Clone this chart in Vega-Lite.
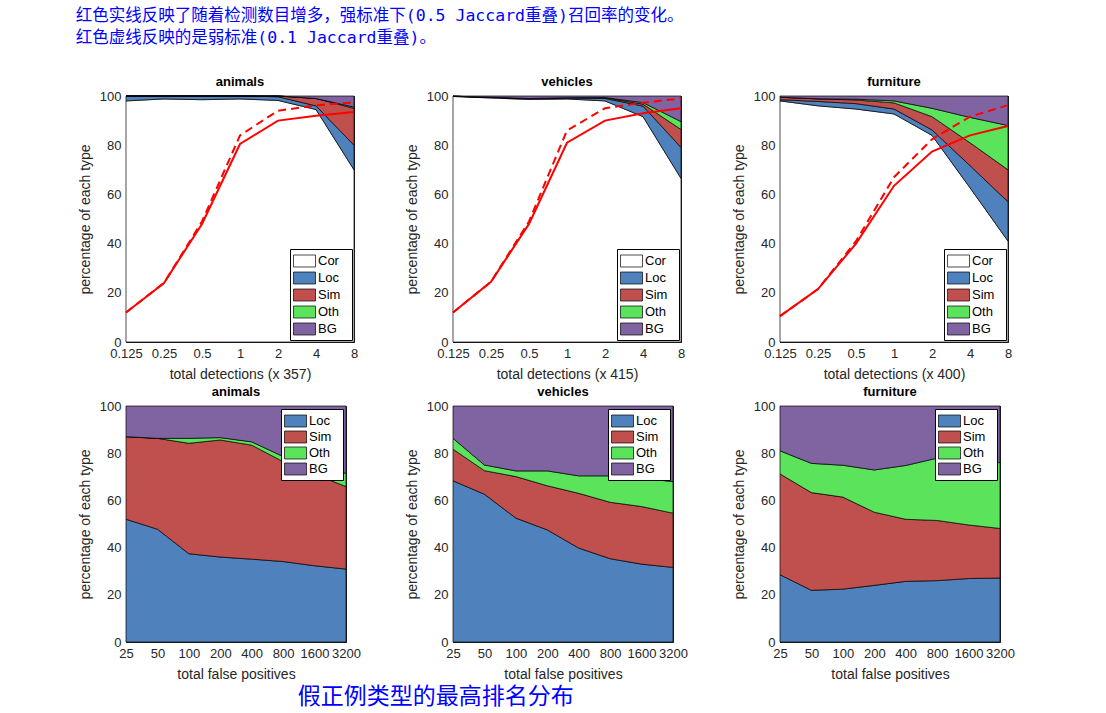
{
  "$schema": "https://vega.github.io/schema/vega-lite/v6.json",
  "padding": {"left": 75, "top": 8, "right": 5, "bottom": 5},
  "datasets": {
    "types": [{"type":"Cor","k":1},{"type":"Loc","k":2},{"type":"Sim","k":3},{"type":"Oth","k":4},{"type":"BG","k":5}],
    "top": [
      {"cat":"animals","x":0.125,"type":"Cor","pct":98},{"cat":"animals","x":0.125,"type":"Loc","pct":2},{"cat":"animals","x":0.125,"type":"Sim","pct":0},{"cat":"animals","x":0.125,"type":"Oth","pct":0},{"cat":"animals","x":0.125,"type":"BG","pct":0},
      {"cat":"animals","x":0.25,"type":"Cor","pct":98.8},{"cat":"animals","x":0.25,"type":"Loc","pct":1.2},{"cat":"animals","x":0.25,"type":"Sim","pct":0},{"cat":"animals","x":0.25,"type":"Oth","pct":0},{"cat":"animals","x":0.25,"type":"BG","pct":0},
      {"cat":"animals","x":0.5,"type":"Cor","pct":98.5},{"cat":"animals","x":0.5,"type":"Loc","pct":1.5},{"cat":"animals","x":0.5,"type":"Sim","pct":0},{"cat":"animals","x":0.5,"type":"Oth","pct":0},{"cat":"animals","x":0.5,"type":"BG","pct":0},
      {"cat":"animals","x":1,"type":"Cor","pct":98.8},{"cat":"animals","x":1,"type":"Loc","pct":1.2},{"cat":"animals","x":1,"type":"Sim","pct":0},{"cat":"animals","x":1,"type":"Oth","pct":0},{"cat":"animals","x":1,"type":"BG","pct":0},
      {"cat":"animals","x":2,"type":"Cor","pct":98.2},{"cat":"animals","x":2,"type":"Loc","pct":1.5},{"cat":"animals","x":2,"type":"Sim","pct":0.3},{"cat":"animals","x":2,"type":"Oth","pct":0},{"cat":"animals","x":2,"type":"BG","pct":0},
      {"cat":"animals","x":4,"type":"Cor","pct":94.5},{"cat":"animals","x":4,"type":"Loc","pct":1.5},{"cat":"animals","x":4,"type":"Sim","pct":3},{"cat":"animals","x":4,"type":"Oth","pct":0},{"cat":"animals","x":4,"type":"BG","pct":1},
      {"cat":"animals","x":8,"type":"Cor","pct":70},{"cat":"animals","x":8,"type":"Loc","pct":10},{"cat":"animals","x":8,"type":"Sim","pct":15},{"cat":"animals","x":8,"type":"Oth","pct":0.5},{"cat":"animals","x":8,"type":"BG","pct":4.5},
      {"cat":"vehicles","x":0.125,"type":"Cor","pct":99.8},{"cat":"vehicles","x":0.125,"type":"Loc","pct":0.1},{"cat":"vehicles","x":0.125,"type":"Sim","pct":0},{"cat":"vehicles","x":0.125,"type":"Oth","pct":0},{"cat":"vehicles","x":0.125,"type":"BG","pct":0.1},
      {"cat":"vehicles","x":0.25,"type":"Cor","pct":99.2},{"cat":"vehicles","x":0.25,"type":"Loc","pct":0.3},{"cat":"vehicles","x":0.25,"type":"Sim","pct":0},{"cat":"vehicles","x":0.25,"type":"Oth","pct":0},{"cat":"vehicles","x":0.25,"type":"BG","pct":0.5},
      {"cat":"vehicles","x":0.5,"type":"Cor","pct":98.6},{"cat":"vehicles","x":0.5,"type":"Loc","pct":0.4},{"cat":"vehicles","x":0.5,"type":"Sim","pct":0},{"cat":"vehicles","x":0.5,"type":"Oth","pct":0},{"cat":"vehicles","x":0.5,"type":"BG","pct":1},
      {"cat":"vehicles","x":1,"type":"Cor","pct":98.8},{"cat":"vehicles","x":1,"type":"Loc","pct":0.5},{"cat":"vehicles","x":1,"type":"Sim","pct":0},{"cat":"vehicles","x":1,"type":"Oth","pct":0},{"cat":"vehicles","x":1,"type":"BG","pct":0.7},
      {"cat":"vehicles","x":2,"type":"Cor","pct":98},{"cat":"vehicles","x":2,"type":"Loc","pct":1},{"cat":"vehicles","x":2,"type":"Sim","pct":0.3},{"cat":"vehicles","x":2,"type":"Oth","pct":0.1},{"cat":"vehicles","x":2,"type":"BG","pct":0.6},
      {"cat":"vehicles","x":4,"type":"Cor","pct":91.6},{"cat":"vehicles","x":4,"type":"Loc","pct":4.3},{"cat":"vehicles","x":4,"type":"Sim","pct":0.8},{"cat":"vehicles","x":4,"type":"Oth","pct":0.6},{"cat":"vehicles","x":4,"type":"BG","pct":2.7},
      {"cat":"vehicles","x":8,"type":"Cor","pct":66.5},{"cat":"vehicles","x":8,"type":"Loc","pct":12.6},{"cat":"vehicles","x":8,"type":"Sim","pct":7.3},{"cat":"vehicles","x":8,"type":"Oth","pct":3.2},{"cat":"vehicles","x":8,"type":"BG","pct":10.4},
      {"cat":"furniture","x":0.125,"type":"Cor","pct":98},{"cat":"furniture","x":0.125,"type":"Loc","pct":0.5},{"cat":"furniture","x":0.125,"type":"Sim","pct":1},{"cat":"furniture","x":0.125,"type":"Oth","pct":0},{"cat":"furniture","x":0.125,"type":"BG","pct":0.5},
      {"cat":"furniture","x":0.25,"type":"Cor","pct":96},{"cat":"furniture","x":0.25,"type":"Loc","pct":1.8},{"cat":"furniture","x":0.25,"type":"Sim","pct":1},{"cat":"furniture","x":0.25,"type":"Oth","pct":0.1},{"cat":"furniture","x":0.25,"type":"BG","pct":1.1},
      {"cat":"furniture","x":0.5,"type":"Cor","pct":94.7},{"cat":"furniture","x":0.5,"type":"Loc","pct":2.2},{"cat":"furniture","x":0.5,"type":"Sim","pct":1.5},{"cat":"furniture","x":0.5,"type":"Oth","pct":0.3},{"cat":"furniture","x":0.5,"type":"BG","pct":1.3},
      {"cat":"furniture","x":1,"type":"Cor","pct":92.7},{"cat":"furniture","x":1,"type":"Loc","pct":2},{"cat":"furniture","x":1,"type":"Sim","pct":2.5},{"cat":"furniture","x":1,"type":"Oth","pct":0.8},{"cat":"furniture","x":1,"type":"BG","pct":2},
      {"cat":"furniture","x":2,"type":"Cor","pct":84},{"cat":"furniture","x":2,"type":"Loc","pct":2.2},{"cat":"furniture","x":2,"type":"Sim","pct":5.4},{"cat":"furniture","x":2,"type":"Oth","pct":3.4},{"cat":"furniture","x":2,"type":"BG","pct":5},
      {"cat":"furniture","x":4,"type":"Cor","pct":62.7},{"cat":"furniture","x":4,"type":"Loc","pct":9},{"cat":"furniture","x":4,"type":"Sim","pct":9.3},{"cat":"furniture","x":4,"type":"Oth","pct":10.3},{"cat":"furniture","x":4,"type":"BG","pct":8.7},
      {"cat":"furniture","x":8,"type":"Cor","pct":41},{"cat":"furniture","x":8,"type":"Loc","pct":16},{"cat":"furniture","x":8,"type":"Sim","pct":13},{"cat":"furniture","x":8,"type":"Oth","pct":18},{"cat":"furniture","x":8,"type":"BG","pct":12}
    ],
    "recall": [
      {"cat":"animals","x":0.125,"strong":12,"weak":12},{"cat":"animals","x":0.25,"strong":24,"weak":24},{"cat":"animals","x":0.5,"strong":48,"weak":49},{"cat":"animals","x":1,"strong":80.5,"weak":84},{"cat":"animals","x":2,"strong":90,"weak":94},{"cat":"animals","x":4,"strong":92,"weak":96.2},{"cat":"animals","x":8,"strong":93.5,"weak":97.4},
      {"cat":"vehicles","x":0.125,"strong":12,"weak":12},{"cat":"vehicles","x":0.25,"strong":24.5,"weak":24.5},{"cat":"vehicles","x":0.5,"strong":48,"weak":49},{"cat":"vehicles","x":1,"strong":81,"weak":86},{"cat":"vehicles","x":2,"strong":90,"weak":95},{"cat":"vehicles","x":4,"strong":93,"weak":97.3},{"cat":"vehicles","x":8,"strong":95,"weak":99},
      {"cat":"furniture","x":0.125,"strong":10.5,"weak":10.5},{"cat":"furniture","x":0.25,"strong":21.5,"weak":21.5},{"cat":"furniture","x":0.5,"strong":40,"weak":41},{"cat":"furniture","x":1,"strong":63.5,"weak":67},{"cat":"furniture","x":2,"strong":77.4,"weak":82.4},{"cat":"furniture","x":4,"strong":84,"weak":91.6},{"cat":"furniture","x":8,"strong":87.8,"weak":96.3}
    ],
    "fp": [
      {"cat":"animals","fp":25,"type":"Loc","pct":52},{"cat":"animals","fp":25,"type":"Sim","pct":35},{"cat":"animals","fp":25,"type":"Oth","pct":0},{"cat":"animals","fp":25,"type":"BG","pct":13},
      {"cat":"animals","fp":50,"type":"Loc","pct":47.8},{"cat":"animals","fp":50,"type":"Sim","pct":38.5},{"cat":"animals","fp":50,"type":"Oth","pct":0},{"cat":"animals","fp":50,"type":"BG","pct":13.7},
      {"cat":"animals","fp":100,"type":"Loc","pct":37.4},{"cat":"animals","fp":100,"type":"Sim","pct":46.8},{"cat":"animals","fp":100,"type":"Oth","pct":2.1},{"cat":"animals","fp":100,"type":"BG","pct":13.7},
      {"cat":"animals","fp":200,"type":"Loc","pct":36},{"cat":"animals","fp":200,"type":"Sim","pct":49.6},{"cat":"animals","fp":200,"type":"Oth","pct":1},{"cat":"animals","fp":200,"type":"BG","pct":13.4},
      {"cat":"animals","fp":400,"type":"Loc","pct":35.1},{"cat":"animals","fp":400,"type":"Sim","pct":48.3},{"cat":"animals","fp":400,"type":"Oth","pct":1.4},{"cat":"animals","fp":400,"type":"BG","pct":15.2},
      {"cat":"animals","fp":800,"type":"Loc","pct":34.1},{"cat":"animals","fp":800,"type":"Sim","pct":42.3},{"cat":"animals","fp":800,"type":"Oth","pct":2.2},{"cat":"animals","fp":800,"type":"BG","pct":21.4},
      {"cat":"animals","fp":1600,"type":"Loc","pct":32.3},{"cat":"animals","fp":1600,"type":"Sim","pct":38.7},{"cat":"animals","fp":1600,"type":"Oth","pct":3},{"cat":"animals","fp":1600,"type":"BG","pct":26},
      {"cat":"animals","fp":3200,"type":"Loc","pct":30.9},{"cat":"animals","fp":3200,"type":"Sim","pct":35},{"cat":"animals","fp":3200,"type":"Oth","pct":5.6},{"cat":"animals","fp":3200,"type":"BG","pct":28.5},
      {"cat":"vehicles","fp":25,"type":"Loc","pct":68.3},{"cat":"vehicles","fp":25,"type":"Sim","pct":13.4},{"cat":"vehicles","fp":25,"type":"Oth","pct":4.6},{"cat":"vehicles","fp":25,"type":"BG","pct":13.7},
      {"cat":"vehicles","fp":50,"type":"Loc","pct":62.6},{"cat":"vehicles","fp":50,"type":"Sim","pct":10},{"cat":"vehicles","fp":50,"type":"Oth","pct":2.4},{"cat":"vehicles","fp":50,"type":"BG","pct":25},
      {"cat":"vehicles","fp":100,"type":"Loc","pct":52.5},{"cat":"vehicles","fp":100,"type":"Sim","pct":17.6},{"cat":"vehicles","fp":100,"type":"Oth","pct":2.4},{"cat":"vehicles","fp":100,"type":"BG","pct":27.5},
      {"cat":"vehicles","fp":200,"type":"Loc","pct":47.5},{"cat":"vehicles","fp":200,"type":"Sim","pct":18.7},{"cat":"vehicles","fp":200,"type":"Oth","pct":6.3},{"cat":"vehicles","fp":200,"type":"BG","pct":27.5},
      {"cat":"vehicles","fp":400,"type":"Loc","pct":39.8},{"cat":"vehicles","fp":400,"type":"Sim","pct":23.2},{"cat":"vehicles","fp":400,"type":"Oth","pct":7.4},{"cat":"vehicles","fp":400,"type":"BG","pct":29.6},
      {"cat":"vehicles","fp":800,"type":"Loc","pct":35.3},{"cat":"vehicles","fp":800,"type":"Sim","pct":23.9},{"cat":"vehicles","fp":800,"type":"Oth","pct":11.2},{"cat":"vehicles","fp":800,"type":"BG","pct":29.6},
      {"cat":"vehicles","fp":1600,"type":"Loc","pct":33},{"cat":"vehicles","fp":1600,"type":"Sim","pct":24.4},{"cat":"vehicles","fp":1600,"type":"Oth","pct":11.9},{"cat":"vehicles","fp":1600,"type":"BG","pct":30.7},
      {"cat":"vehicles","fp":3200,"type":"Loc","pct":31.6},{"cat":"vehicles","fp":3200,"type":"Sim","pct":23},{"cat":"vehicles","fp":3200,"type":"Oth","pct":13.4},{"cat":"vehicles","fp":3200,"type":"BG","pct":32},
      {"cat":"furniture","fp":25,"type":"Loc","pct":28.5},{"cat":"furniture","fp":25,"type":"Sim","pct":42.7},{"cat":"furniture","fp":25,"type":"Oth","pct":9.8},{"cat":"furniture","fp":25,"type":"BG","pct":19},
      {"cat":"furniture","fp":50,"type":"Loc","pct":21.9},{"cat":"furniture","fp":50,"type":"Sim","pct":41.4},{"cat":"furniture","fp":50,"type":"Oth","pct":12.4},{"cat":"furniture","fp":50,"type":"BG","pct":24.3},
      {"cat":"furniture","fp":100,"type":"Loc","pct":22.4},{"cat":"furniture","fp":100,"type":"Sim","pct":39},{"cat":"furniture","fp":100,"type":"Oth","pct":13.5},{"cat":"furniture","fp":100,"type":"BG","pct":25.1},
      {"cat":"furniture","fp":200,"type":"Loc","pct":24},{"cat":"furniture","fp":200,"type":"Sim","pct":31},{"cat":"furniture","fp":200,"type":"Oth","pct":17.9},{"cat":"furniture","fp":200,"type":"BG","pct":27.1},
      {"cat":"furniture","fp":400,"type":"Loc","pct":25.7},{"cat":"furniture","fp":400,"type":"Sim","pct":26.3},{"cat":"furniture","fp":400,"type":"Oth","pct":22.8},{"cat":"furniture","fp":400,"type":"BG","pct":25.2},
      {"cat":"furniture","fp":800,"type":"Loc","pct":26},{"cat":"furniture","fp":800,"type":"Sim","pct":25.5},{"cat":"furniture","fp":800,"type":"Oth","pct":26.4},{"cat":"furniture","fp":800,"type":"BG","pct":22.1},
      {"cat":"furniture","fp":1600,"type":"Loc","pct":26.9},{"cat":"furniture","fp":1600,"type":"Sim","pct":22.7},{"cat":"furniture","fp":1600,"type":"Oth","pct":27.8},{"cat":"furniture","fp":1600,"type":"BG","pct":22.6},
      {"cat":"furniture","fp":3200,"type":"Loc","pct":27.1},{"cat":"furniture","fp":3200,"type":"Sim","pct":21},{"cat":"furniture","fp":3200,"type":"Oth","pct":27.9},{"cat":"furniture","fp":3200,"type":"BG","pct":24}
    ]
  },
  "title": {
    "text": ["红色实线反映了随着检测数目增多，强标准下(0.5 Jaccard重叠)召回率的变化。", "红色虚线反映的是弱标准(0.1 Jaccard重叠)。"],
    "anchor": "start", "dx": -2, "font": "DejaVu Sans Mono, Noto Sans CJK SC", "fontSize": 16.5, "fontWeight": "normal", "color": "#0000ff", "lineHeight": 22, "offset": 29
  },
  "resolve": {"scale": {"color": "independent"}, "legend": {"color": "independent"}},
  "vconcat": [
    {
      "columns": 3,
      "spacing": {"row": 64, "column": 99},
      "bounds": "flush",
      "resolve": {"scale": {"color": "independent"}, "legend": {"color": "independent"}},
      "title": {"text": "假正例类型的最高排名分布", "orient": "bottom", "anchor": "start", "dx": 220, "offset": 4, "font": "Noto Sans CJK SC", "fontSize": 23, "fontWeight": "normal", "color": "#0000ff"},
      "concat": [
        {
          "width": 228, "height": 246, "title": "animals",
          "resolve": {"axis": {"x": "independent", "y": "independent"}},
          "layer": [
            {"data": {"name": "top"}, "transform": [{"filter": "datum.cat === 'animals'"}, {"lookup": "type", "from": {"data": {"name": "types"}, "key": "type", "fields": ["k"]}}], "mark": {"type": "area"},
             "encoding": {
               "x": {"field": "x", "type": "quantitative", "title": "total detections (x 357)", "scale": {"type": "log", "base": 2, "domain": [0.125, 8], "nice": false}, "axis": {"values": [0.125, 0.25, 0.5, 1, 2, 4, 8], "format": "~g"}},
               "y": {"field": "pct", "type": "quantitative", "stack": "zero", "title": "percentage of each type", "scale": {"domain": [0, 100], "nice": false}, "axis": {"values": [0, 20, 40, 60, 80, 100]}},
               "order": {"field": "k", "type": "quantitative"},
               "color": {"field": "type", "type": "nominal", "scale": {"domain": ["Cor", "Loc", "Sim", "Oth", "BG"], "range": ["#ffffff", "#4f81bd", "#c0504d", "#5be35b", "#8064a2"]}, "legend": {"title": null, "orient": "bottom-right", "labelExpr": "datum.label + '\u00a0\u00a0\u200b'"}}
             }},
            {"data": {"name": "recall"}, "transform": [{"filter": "datum.cat === 'animals'"}], "mark": {"type": "line", "color": "#ff0000", "strokeWidth": 2},
             "encoding": {"x": {"field": "x", "type": "quantitative", "axis": {"orient": "top", "labels": false, "title": null, "values": [0.125, 0.25, 0.5, 1, 2, 4, 8]}}, "y": {"field": "strong", "type": "quantitative", "axis": {"orient": "right", "labels": false, "title": null, "values": [0, 20, 40, 60, 80, 100]}}}},
            {"data": {"name": "recall"}, "transform": [{"filter": "datum.cat === 'animals'"}], "mark": {"type": "line", "color": "#ff0000", "strokeWidth": 2, "strokeDash": [8, 5]},
             "encoding": {"x": {"field": "x", "type": "quantitative", "axis": null}, "y": {"field": "weak", "type": "quantitative", "axis": null}}}
          ]
        },
        {
          "width": 228, "height": 246, "title": "vehicles",
          "resolve": {"axis": {"x": "independent", "y": "independent"}},
          "layer": [
            {"data": {"name": "top"}, "transform": [{"filter": "datum.cat === 'vehicles'"}, {"lookup": "type", "from": {"data": {"name": "types"}, "key": "type", "fields": ["k"]}}], "mark": {"type": "area"},
             "encoding": {
               "x": {"field": "x", "type": "quantitative", "title": "total detections (x 415)", "scale": {"type": "log", "base": 2, "domain": [0.125, 8], "nice": false}, "axis": {"values": [0.125, 0.25, 0.5, 1, 2, 4, 8], "format": "~g"}},
               "y": {"field": "pct", "type": "quantitative", "stack": "zero", "title": "percentage of each type", "scale": {"domain": [0, 100], "nice": false}, "axis": {"values": [0, 20, 40, 60, 80, 100]}},
               "order": {"field": "k", "type": "quantitative"},
               "color": {"field": "type", "type": "nominal", "scale": {"domain": ["Cor", "Loc", "Sim", "Oth", "BG"], "range": ["#ffffff", "#4f81bd", "#c0504d", "#5be35b", "#8064a2"]}, "legend": {"title": null, "orient": "bottom-right", "labelExpr": "datum.label + '\u00a0\u00a0\u200b'"}}
             }},
            {"data": {"name": "recall"}, "transform": [{"filter": "datum.cat === 'vehicles'"}], "mark": {"type": "line", "color": "#ff0000", "strokeWidth": 2},
             "encoding": {"x": {"field": "x", "type": "quantitative", "axis": {"orient": "top", "labels": false, "title": null, "values": [0.125, 0.25, 0.5, 1, 2, 4, 8]}}, "y": {"field": "strong", "type": "quantitative", "axis": {"orient": "right", "labels": false, "title": null, "values": [0, 20, 40, 60, 80, 100]}}}},
            {"data": {"name": "recall"}, "transform": [{"filter": "datum.cat === 'vehicles'"}], "mark": {"type": "line", "color": "#ff0000", "strokeWidth": 2, "strokeDash": [8, 5]},
             "encoding": {"x": {"field": "x", "type": "quantitative", "axis": null}, "y": {"field": "weak", "type": "quantitative", "axis": null}}}
          ]
        },
        {
          "width": 228, "height": 246, "title": "furniture",
          "resolve": {"axis": {"x": "independent", "y": "independent"}},
          "layer": [
            {"data": {"name": "top"}, "transform": [{"filter": "datum.cat === 'furniture'"}, {"lookup": "type", "from": {"data": {"name": "types"}, "key": "type", "fields": ["k"]}}], "mark": {"type": "area"},
             "encoding": {
               "x": {"field": "x", "type": "quantitative", "title": "total detections (x 400)", "scale": {"type": "log", "base": 2, "domain": [0.125, 8], "nice": false}, "axis": {"values": [0.125, 0.25, 0.5, 1, 2, 4, 8], "format": "~g"}},
               "y": {"field": "pct", "type": "quantitative", "stack": "zero", "title": "percentage of each type", "scale": {"domain": [0, 100], "nice": false}, "axis": {"values": [0, 20, 40, 60, 80, 100]}},
               "order": {"field": "k", "type": "quantitative"},
               "color": {"field": "type", "type": "nominal", "scale": {"domain": ["Cor", "Loc", "Sim", "Oth", "BG"], "range": ["#ffffff", "#4f81bd", "#c0504d", "#5be35b", "#8064a2"]}, "legend": {"title": null, "orient": "bottom-right", "labelExpr": "datum.label + '\u00a0\u00a0\u200b'"}}
             }},
            {"data": {"name": "recall"}, "transform": [{"filter": "datum.cat === 'furniture'"}], "mark": {"type": "line", "color": "#ff0000", "strokeWidth": 2},
             "encoding": {"x": {"field": "x", "type": "quantitative", "axis": {"orient": "top", "labels": false, "title": null, "values": [0.125, 0.25, 0.5, 1, 2, 4, 8]}}, "y": {"field": "strong", "type": "quantitative", "axis": {"orient": "right", "labels": false, "title": null, "values": [0, 20, 40, 60, 80, 100]}}}},
            {"data": {"name": "recall"}, "transform": [{"filter": "datum.cat === 'furniture'"}], "mark": {"type": "line", "color": "#ff0000", "strokeWidth": 2, "strokeDash": [8, 5]},
             "encoding": {"x": {"field": "x", "type": "quantitative", "axis": null}, "y": {"field": "weak", "type": "quantitative", "axis": null}}}
          ]
        },
        {
          "width": 220, "height": 236, "title": "animals",
          "resolve": {"axis": {"x": "independent", "y": "independent"}},
          "data": {"name": "fp"}, "transform": [{"filter": "datum.cat === 'animals'"}, {"lookup": "type", "from": {"data": {"name": "types"}, "key": "type", "fields": ["k"]}}],
          "layer": [
            {"mark": {"type": "area"},
             "encoding": {
               "x": {"field": "fp", "type": "quantitative", "title": "total false positives", "scale": {"type": "log", "base": 2, "domain": [25, 3200], "nice": false}, "axis": {"values": [25, 50, 100, 200, 400, 800, 1600, 3200], "format": "d"}},
               "y": {"field": "pct", "type": "quantitative", "stack": "zero", "title": "percentage of each type", "scale": {"domain": [0, 100], "nice": false}, "axis": {"values": [0, 20, 40, 60, 80, 100]}},
               "order": {"field": "k", "type": "quantitative"},
               "color": {"field": "type", "type": "nominal", "scale": {"domain": ["Loc", "Sim", "Oth", "BG"], "range": ["#4f81bd", "#c0504d", "#5be35b", "#8064a2"]}, "legend": {"title": null, "orient": "top-right", "offset": 3, "rowPadding": 0, "labelExpr": "datum.label + '\u00a0\u00a0\u200b'"}}
             }},
            {"mark": {"type": "line", "opacity": 0},
             "encoding": {"detail": {"field": "type"}, "x": {"field": "fp", "type": "quantitative", "axis": {"orient": "top", "labels": false, "title": null, "values": [25, 50, 100, 200, 400, 800, 1600, 3200]}}, "y": {"field": "pct", "type": "quantitative", "axis": {"orient": "right", "labels": false, "title": null, "values": [0, 20, 40, 60, 80, 100]}}}}
          ]
        },
        {
          "width": 220, "height": 236, "title": "vehicles",
          "resolve": {"axis": {"x": "independent", "y": "independent"}},
          "data": {"name": "fp"}, "transform": [{"filter": "datum.cat === 'vehicles'"}, {"lookup": "type", "from": {"data": {"name": "types"}, "key": "type", "fields": ["k"]}}],
          "layer": [
            {"mark": {"type": "area"},
             "encoding": {
               "x": {"field": "fp", "type": "quantitative", "title": "total false positives", "scale": {"type": "log", "base": 2, "domain": [25, 3200], "nice": false}, "axis": {"values": [25, 50, 100, 200, 400, 800, 1600, 3200], "format": "d"}},
               "y": {"field": "pct", "type": "quantitative", "stack": "zero", "title": "percentage of each type", "scale": {"domain": [0, 100], "nice": false}, "axis": {"values": [0, 20, 40, 60, 80, 100]}},
               "order": {"field": "k", "type": "quantitative"},
               "color": {"field": "type", "type": "nominal", "scale": {"domain": ["Loc", "Sim", "Oth", "BG"], "range": ["#4f81bd", "#c0504d", "#5be35b", "#8064a2"]}, "legend": {"title": null, "orient": "top-right", "offset": 3, "rowPadding": 0, "labelExpr": "datum.label + '\u00a0\u00a0\u200b'"}}
             }},
            {"mark": {"type": "line", "opacity": 0},
             "encoding": {"detail": {"field": "type"}, "x": {"field": "fp", "type": "quantitative", "axis": {"orient": "top", "labels": false, "title": null, "values": [25, 50, 100, 200, 400, 800, 1600, 3200]}}, "y": {"field": "pct", "type": "quantitative", "axis": {"orient": "right", "labels": false, "title": null, "values": [0, 20, 40, 60, 80, 100]}}}}
          ]
        },
        {
          "width": 220, "height": 236, "title": "furniture",
          "resolve": {"axis": {"x": "independent", "y": "independent"}},
          "data": {"name": "fp"}, "transform": [{"filter": "datum.cat === 'furniture'"}, {"lookup": "type", "from": {"data": {"name": "types"}, "key": "type", "fields": ["k"]}}],
          "layer": [
            {"mark": {"type": "area"},
             "encoding": {
               "x": {"field": "fp", "type": "quantitative", "title": "total false positives", "scale": {"type": "log", "base": 2, "domain": [25, 3200], "nice": false}, "axis": {"values": [25, 50, 100, 200, 400, 800, 1600, 3200], "format": "d"}},
               "y": {"field": "pct", "type": "quantitative", "stack": "zero", "title": "percentage of each type", "scale": {"domain": [0, 100], "nice": false}, "axis": {"values": [0, 20, 40, 60, 80, 100]}},
               "order": {"field": "k", "type": "quantitative"},
               "color": {"field": "type", "type": "nominal", "scale": {"domain": ["Loc", "Sim", "Oth", "BG"], "range": ["#4f81bd", "#c0504d", "#5be35b", "#8064a2"]}, "legend": {"title": null, "orient": "top-right", "offset": 3, "rowPadding": 0, "labelExpr": "datum.label + '\u00a0\u00a0\u200b'"}}
             }},
            {"mark": {"type": "line", "opacity": 0},
             "encoding": {"detail": {"field": "type"}, "x": {"field": "fp", "type": "quantitative", "axis": {"orient": "top", "labels": false, "title": null, "values": [25, 50, 100, 200, 400, 800, 1600, 3200]}}, "y": {"field": "pct", "type": "quantitative", "axis": {"orient": "right", "labels": false, "title": null, "values": [0, 20, 40, 60, 80, 100]}}}}
          ]
        }
      ]
    }
  ],
  "config": {
    "font": "Liberation Sans",
    "view": {"stroke": "#262626", "strokeWidth": 1},
    "area": {"stroke": "#000000", "strokeWidth": 0.7, "opacity": 1},
    "axis": {"domain": false, "grid": false, "ticks": true, "tickSize": -4, "tickColor": "#262626", "labelPadding": 9, "labelFontSize": 13, "labelColor": "#262626", "labelFlush": false, "labelOverlap": false, "labelBound": false, "titleFontSize": 14, "titleFontWeight": "normal", "titleColor": "#262626", "titlePadding": 7},
    "title": {"fontSize": 13, "fontWeight": "bold", "color": "#000000", "offset": 1},
    "legend": {"offset": 2, "padding": 3.5, "strokeColor": "#000000", "fillColor": "#ffffff", "symbolType": "M-1.06,-0.75H1.69V0.75H-1.06Z", "symbolSize": 256, "symbolStrokeColor": "#000000", "symbolStrokeWidth": 0.8, "symbolOpacity": 1, "labelFontSize": 13, "labelColor": "#000000", "labelOffset": 7.5, "rowPadding": 1, "labelLimit": 0}
  }
}
